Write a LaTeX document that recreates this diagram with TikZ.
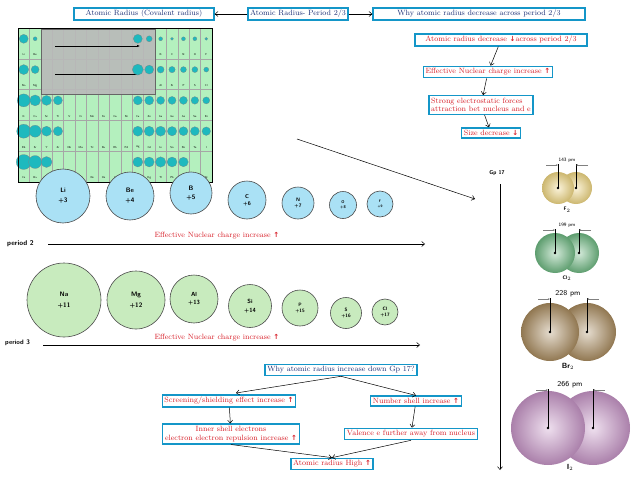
\documentclass[tikz,border=0pt]{standalone}
\usepackage{fontspec}
\newfontfamily\dvb{DejaVu Sans Bold}
\usetikzlibrary{arrows.meta}
\definecolor{bx}{RGB}{20,150,200}
\definecolor{rd}{RGB}{215,30,40}
\definecolor{bl}{RGB}{30,50,120}
\definecolor{pg}{RGB}{180,240,190}
\definecolor{cy}{RGB}{30,185,190}
\definecolor{ballb}{RGB}{170,225,245}
\definecolor{ballg}{RGB}{200,235,190}
\newcommand{\upar}{{\color{rd}\dvb\fontsize{7}{7}\selectfont ↑}}
\newcommand{\dnar}{{\color{rd}\dvb\fontsize{7}{7}\selectfont ↓}}
\tikzset{
 fbox/.style={draw=bx,line width=1.3pt,fill=white,inner sep=2.2pt,font=\fontsize{7.6}{8.6}\selectfont,align=center},
 rbox/.style={fbox,text=rd},
 bbox/.style={fbox,text=bl},
 arr/.style={-{Straight Barb[length=3pt,width=5pt]},line width=0.5pt},
 atomb/.style={circle,draw=black!70,line width=0.6pt,fill=ballb,font=\sffamily\bfseries\fontsize{6.5}{8}\selectfont,align=center},
 atomg/.style={atomb,fill=ballg},
 lbl/.style={font=\sffamily\bfseries\fontsize{7}{8}\selectfont},
 redlbl/.style={text=rd,font=\fontsize{7.6}{8.6}\selectfont}
}
\begin{document}
\begin{tikzpicture}[x=1pt,y=-1pt]
\useasboundingbox (0,0) rectangle (638,479);
% top boxes
\node[bbox,minimum width=140pt] (r1) at (144,14) {Atomic Radius (Covalent radius)};
\node[bbox] (r2) at (298,14) {Atomic Radius- Period 2/3};
\node[bbox,minimum width=212pt] (r3) at (479,14) {Why atomic radius decrease across period 2/3};
\draw[arr] (r2) -- (r1);
\draw[arr] (r2) -- (r3);
\node[rbox,minimum width=172pt] (a1) at (501,40) {Atomic radius decrease \dnar across period 2/3};
\node[rbox] (a2) at (488,72) {Effective Nuclear charge increase \upar};
\node[rbox,align=left] (a3) at (481,105) {Strong electrostatic forces\\attraction bet nucleus and e};
\node[rbox] (a4) at (491,133) {Size decrease \dnar};
\draw[arr] (a1) -- (a2);
\draw[arr] (a2) -- (a3);
\draw[arr] (a3) -- (a4);
% periodic table
\fill[pg] (18,28) rectangle (212,182);
\foreach \i in {0,...,17} \draw[black!35,line width=0.3pt] (18+\i*11.41,28) -- (18+\i*11.41,182);
\foreach \j in {1,...,4} \draw[black!35,line width=0.3pt] (18,28+\j*30.8) -- (212,28+\j*30.8);
\fill[gray!55,opacity=0.9] (40.8,29) rectangle (154.9,94);
\draw[black!60,line width=0.5pt] (40.8,29) rectangle (154.9,94);
\draw[-{Latex[length=3pt]},line width=0.4pt] (55,46) -- (140,46);
\draw[-{Latex[length=3pt]},line width=0.4pt] (55,74) -- (140,74);
\newcommand{\cell}[4]{% col row radius symbol
 \ifdim #3pt>0pt \fill[cy] (18+#1*11.41-5.7,28+#2*30.8-20) circle (#3); \draw[black!50,line width=0.2pt] (18+#1*11.41-5.7,28+#2*30.8-20) circle (#3);\fi
 \node[font=\sffamily\fontsize{2.8}{3}\selectfont,inner sep=0] at (18+#1*11.41-5.7,28+#2*30.8-4) {#4};}
\foreach \c/\r/\s [count=\k] in {1/4.5/Li,2/2/Be,11/4.5/,12/3/,13/2/B,14/1.5/C,15/2/N,16/2/O,17/1.5/F} \cell{\c}{1}{\r}{\s};
\foreach \c/\r/\s in {1/5/Na,2/4/Mg,11/5.5/,12/4.5/,13/3.5/Al,14/3.2/Si,15/3/P,16/3/S,17/2.5/Cl} \cell{\c}{2}{\r}{\s};
\foreach \c/\r/\s in {1/6.5/K,2/5.5/Ca,3/5/Sc,4/4.5/Ti,5/0/V,6/0/Cr,7/0/Mn,8/0/Fe,9/0/Co,10/0/Ni,11/4.5/Cu,12/4.5/Zn,13/4/Ga,14/4/Ge,15/4/As,16/3.8/Se,17/3.5/Br} \cell{\c}{3}{\r}{\s};
\foreach \c/\r/\s in {1/7/Rb,2/6/Sr,3/5/Y,4/4.7/Zr,5/0/Nb,6/0/Mo,7/0/Tc,8/0/Ru,9/0/Rh,10/0/Pd,11/5/Ag,12/5/Cd,13/5/In,14/4.7/Sn,15/4.5/Sb,16/4.5/Te,17/4.3/I} \cell{\c}{4}{\r}{\s};
\foreach \c/\r/\s in {1/7.5/Cs,2/6.5/Ba,3/5.5/La,4/0/Hf,5/0/Ta,6/0/W,7/0/Re,8/0/Os,9/0/Ir,10/0/Pt,11/5/Au,12/5/Hg,13/5.2/Tl,14/5/Pb,15/4.8/Bi,16/0/Po,17/0/At} \cell{\c}{5}{\r}{\s};
\draw[black,line width=1pt] (18,28) rectangle (212,182);
\coordinate (tabarr) at (297,139);
\node[lbl,font=\sffamily\bfseries\fontsize{5.5}{6}\selectfont] (gp) at (497,173) {Gp 17};
\coordinate (gpt) at (475,199);
\draw[arr] (tabarr) -- (gpt);
\coordinate (vt) at (500,184);
\coordinate (vb) at (500,470);
\draw[arr] (vt) -- (vb);
% period 2 atoms
\node[atomb,minimum size=54pt] (li) at (63,196) {Li\\[2pt]+3};
\node[atomb,minimum size=48pt] (be) at (130,196) {Be\\[2pt]+4};
\node[atomb,minimum size=42pt] (b) at (191,193) {B\\[1pt]+5};
\node[atomb,minimum size=38pt,font=\sffamily\bfseries\fontsize{5.5}{7}\selectfont] (c) at (247,200) {C\\+6};
\node[atomb,minimum size=32pt,font=\sffamily\bfseries\fontsize{5}{6}\selectfont] (n) at (298,203) {N\\+7};
\node[atomb,minimum size=27pt,font=\sffamily\bfseries\fontsize{4}{5}\selectfont] (o) at (343,205) {O\\+8};
\node[atomb,minimum size=26pt,font=\sffamily\bfseries\fontsize{3.5}{4.5}\selectfont] (f) at (380,204) {F\\+9};
\node[redlbl] (e2) at (217,236) {Effective Nuclear charge increase \upar};
\node[lbl,anchor=west,inner sep=0] (p2) at (7,244) {period 2};
\coordinate (p2e) at (425,244);
\coordinate (p2s) at (48,244);
\draw[arr] (p2s) -- (p2e);
% period 3 atoms
\node[atomg,minimum size=74pt] (na) at (64,300) {Na\\[3pt]+11};
\node[atomg,minimum size=58pt] (mg) at (136,300) {Mg\\[3pt]+12};
\node[atomg,minimum size=48pt,font=\sffamily\bfseries\fontsize{6}{7.5}\selectfont] (al) at (194,299) {Al\\+13};
\node[atomg,minimum size=43pt,font=\sffamily\bfseries\fontsize{6}{7.5}\selectfont] (si) at (250,306) {Si\\[1pt]+14};
\node[atomg,minimum size=36pt,font=\sffamily\bfseries\fontsize{4.8}{6}\selectfont] (p) at (300,308) {P\\+15};
\node[atomg,minimum size=31pt,font=\sffamily\bfseries\fontsize{4.8}{6}\selectfont] (s) at (346,313) {S\\+16};
\node[atomg,minimum size=26pt,font=\sffamily\bfseries\fontsize{4.8}{6}\selectfont] (cl) at (385,312) {Cl\\+17};
\node[redlbl] (e3) at (217,338) {Effective Nuclear charge increase \upar};
\node[lbl,anchor=west,inner sep=0,font=\sffamily\bfseries\fontsize{6.5}{7}\selectfont] (p3) at (5,343) {period 3};
\coordinate (p3e) at (420,345);
\coordinate (p3s) at (43,345);
\draw[arr] (p3s) -- (p3e);
% bottom flow
\node[bbox] (w) at (341,370) {Why atomic radius increase down Gp 17?};
\node[rbox] (sc) at (229,401) {Screening/shielding effect increase \upar};
\node[rbox] (ns) at (416,401) {Number shell increase \upar};
\node[rbox] (in) at (231,434) {Inner shell electrons\\electron electron repulsion increase \upar};
\node[rbox] (va) at (411,434) {Valence e further away from nucleus};
\node[rbox] (hi) at (332,464) {Atomic radius High \upar};
\coordinate (sct) at (236,393);
\draw[arr] (w.south) -- (sct);
\draw[arr] (w.south) -- (ns.north);
\draw[arr] (sc) -- (in);
\draw[arr] (ns) -- (va);
\draw[arr] (in.south) -- (hi.north);
\draw[arr] (va.south) -- (hi.north);
% halogen molecules
\newcommand{\molec}[7]{% x1 x2 y r color dummy lbly
 \shade[inner color=white!70!#5,outer color=#5!85!black] (#2,#3) circle (#4);
 \shade[inner color=white!70!#5,outer color=#5!85!black] (#1,#3) circle (#4);
 \fill (#1,#3) circle (1.3); \fill (#2,#3) circle (1.3);
 \draw[line width=0.3pt] (#1,#3) -- (#1,#7+4); \draw[line width=0.3pt] (#2,#3) -- (#2,#7+4);
 \draw[gray,line width=0.3pt,-{Stealth[length=2pt]}] (#1-12,#7+5) -- (#1,#7+5);
 \draw[gray,line width=0.3pt,-{Stealth[length=2pt]}] (#2+12,#7+5) -- (#2,#7+5);
}
\definecolor{mf}{RGB}{240,215,130}
\definecolor{mc}{RGB}{110,185,130}
\definecolor{mb}{RGB}{170,140,95}
\definecolor{mi}{RGB}{200,150,200}
\molec{558}{576}{188}{16}{mf}{}{160}
\node[font=\sffamily\fontsize{5}{6}\selectfont] (l1) at (567,160) {143 pm};
\node[font=\sffamily\bfseries\fontsize{5}{6}\selectfont] (n1) at (567,210) {F$_2$};
\molec{555}{579}{253}{20}{mc}{}{225}
\node[font=\sffamily\fontsize{5}{6}\selectfont] (l2) at (567,225) {199 pm};
\node[font=\sffamily\bfseries\fontsize{5}{6}\selectfont] (n2) at (567,278) {Cl$_2$};
\molec{550}{587}{332}{29}{mb}{}{294}
\node[font=\sffamily\fontsize{7.5}{8}\selectfont] (l3) at (568,294) {228 pm};
\node[font=\sffamily\bfseries\fontsize{7.5}{8}\selectfont] (n3) at (568,366) {Br$_2$};
\molec{548}{593}{428}{37}{mi}{}{385}
\node[font=\sffamily\fontsize{7.5}{8}\selectfont] (l4) at (570,385) {266 pm};
\node[font=\sffamily\bfseries\fontsize{7.5}{8}\selectfont] (n4) at (570,467) {I$_2$};
\end{tikzpicture}
\end{document}
